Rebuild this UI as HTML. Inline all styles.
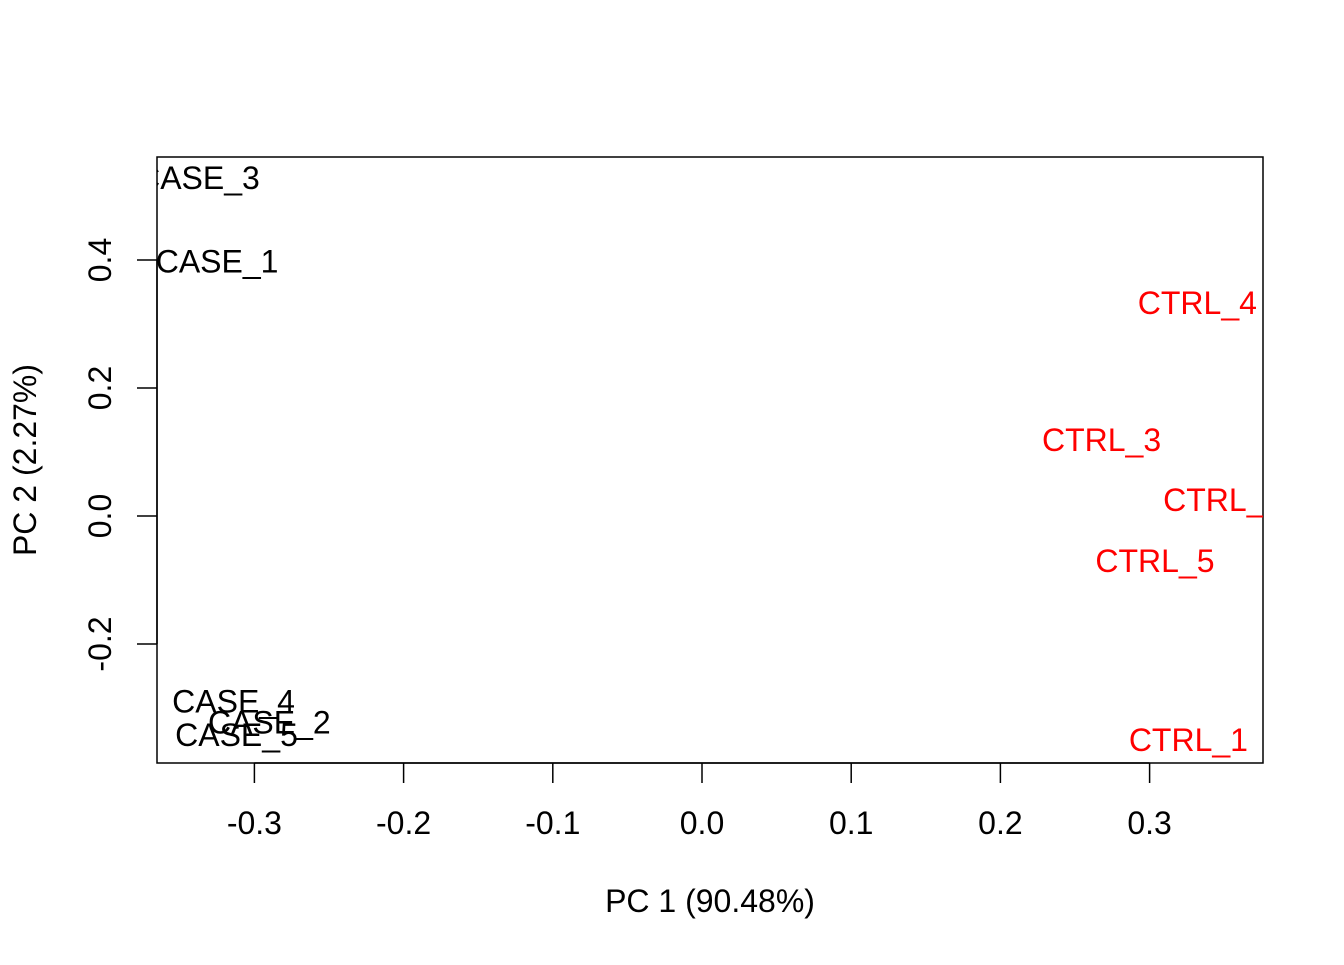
<!DOCTYPE html>
<html><head><meta charset="utf-8"><style>
html,body{margin:0;padding:0;background:#fff;}
svg text{font-family:"Liberation Sans",Arial,sans-serif;}
</style></head><body>
<svg id="chart" width="1344" height="960" viewBox="0 0 1344 960" xmlns="http://www.w3.org/2000/svg">
<defs><clipPath id="plotclip"><rect x="157" y="157" width="1106" height="606"/></clipPath></defs>
<rect x="157" y="157" width="1106" height="606" fill="none" stroke="#000" stroke-width="1.5"/>
<g id="xaxis"></g>
<g id="yaxis"></g>
<g id="points" clip-path="url(#plotclip)"></g>
<text x="710" y="912" font-size="32" text-anchor="middle">PC 1 (90.48%)</text>
<text transform="translate(36,460) rotate(-90)" font-size="32" text-anchor="middle">PC 2 (2.27%)</text>
</svg>
<script>
const samples = ["CASE_3","CASE_1","CASE_4","CASE_2","CASE_5","CTRL_4","CTRL_3","CTRL_2","CTRL_5","CTRL_1"];
const pc1 = [-0.3375,-0.325,-0.314,-0.29,-0.312,0.332,0.2678,0.349,0.3036,0.326];
const pc2 = [0.528,0.398,-0.29,-0.323,-0.342,0.333,0.119,0.025,-0.070,-0.35];
const colors = ["#000","#000","#000","#000","#000","#f00","#f00","#f00","#f00","#f00"];
const xTicks = [-0.3,-0.2,-0.1,0.0,0.1,0.2,0.3];
const xTickLabels = ["-0.3","-0.2","-0.1","0.0","0.1","0.2","0.3"];
const yTicks = [-0.2,0.0,0.2,0.4];
const yTickLabels = ["-0.2","0.0","0.2","0.4"];
const NS="http://www.w3.org/2000/svg";
function sx(v){return 702+v*1492;}
function sy(v){return 516-v*640;}
function mk(t,a,p){const e=document.createElementNS(NS,t);for(const k in a)e.setAttribute(k,a[k]);p.appendChild(e);return e;}
const xa=document.getElementById('xaxis'), ya=document.getElementById('yaxis'), pts=document.getElementById('points');
mk('line',{x1:sx(xTicks[0]),x2:sx(xTicks[xTicks.length-1]),y1:763,y2:763,stroke:'#000','stroke-width':1.5},xa);
xTicks.forEach((t,i)=>{
  const l=mk('line',{x1:sx(t),x2:sx(t),y1:763,y2:783,stroke:'#000','stroke-width':1.5},xa);
  
  
  const tx=mk('text',{x:sx(t),y:834,'font-size':32,'text-anchor':'middle'},xa);
  tx.textContent=xTickLabels[i];
  
  
});
mk('line',{x1:157,x2:157,y1:sy(yTicks[0]),y2:sy(yTicks[yTicks.length-1]),stroke:'#000','stroke-width':1.5},ya);
yTicks.forEach((t,i)=>{
  const l=mk('line',{x1:137,x2:157,y1:sy(t),y2:sy(t),stroke:'#000','stroke-width':1.5},ya);
  
  
  const tx=mk('text',{transform:`translate(111,${sy(t)}) rotate(-90)`,'font-size':32,'text-anchor':'middle'},ya);
  tx.textContent=yTickLabels[i];
  
  
});
samples.forEach((s,i)=>{
  const tx=mk('text',{x:sx(pc1[i]),y:sy(pc2[i])+11,'font-size':32,'text-anchor':'middle',fill:colors[i]},pts);
  tx.textContent=s;
  
  
});
</script>
</body></html>
